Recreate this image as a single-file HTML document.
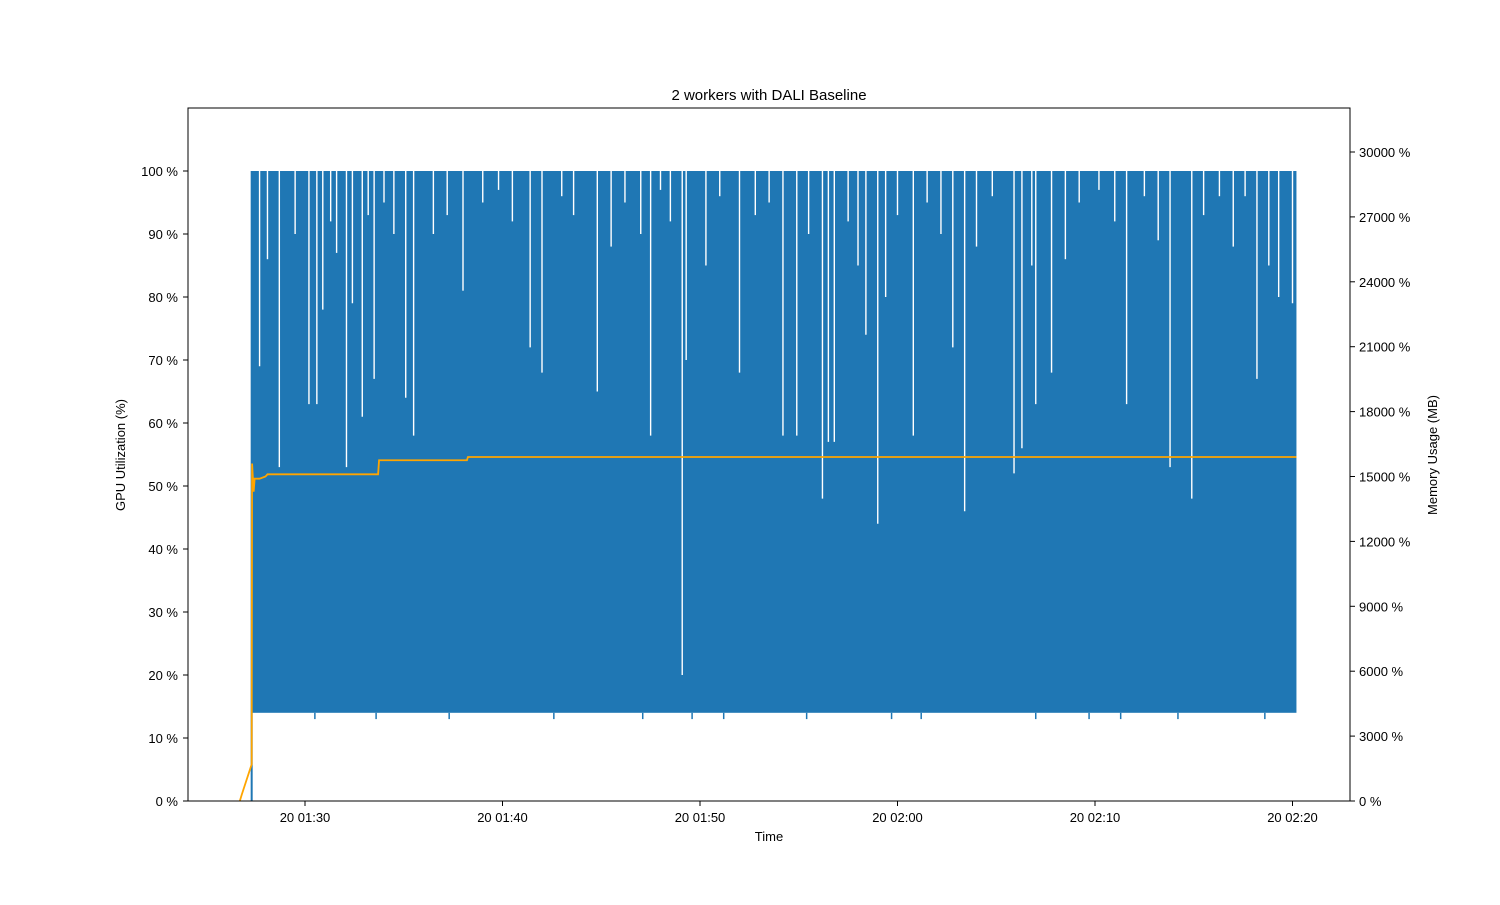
<!DOCTYPE html>
<html><head><meta charset="utf-8"><style>
body{margin:0;background:#fff;}
svg text{font-family:"Liberation Sans","DejaVu Sans",sans-serif;font-size:13px;fill:#000;}
</style></head><body>
<svg width="1500" height="900" xmlns="http://www.w3.org/2000/svg">
<rect width="1500" height="900" fill="#fff"/>
<g id="plot"></g>
<rect x="188" y="108" width="1162" height="693" fill="none" stroke="#000" stroke-width="1"/>
<text x="769" y="100" text-anchor="middle" style="font-size:15px">2 workers with DALI Baseline</text>
<text x="769" y="841" text-anchor="middle">Time</text>
<text transform="translate(125,455) rotate(-90)" text-anchor="middle">GPU Utilization (%)</text>
<text transform="translate(1437,455) rotate(-90)" text-anchor="middle">Memory Usage (MB)</text>
<g id="axes"></g>
</svg>
<script>
const xTickLabels=["20 01:30","20 01:40","20 01:50","20 02:00","20 02:10","20 02:20"];
const xTickMinutes=[0,10,20,30,40,50];
const yTicks=[0,10,20,30,40,50,60,70,80,90,100];
const y2Ticks=[0,3000,6000,9000,12000,15000,18000,21000,24000,27000,30000];
const gpuStart=-2.7, gpuEnd=50.2, gpuTop=100, gpuFloor=14;
const gpuDips=[[-2.3,69],[-1.3,53],[0.2,63],[0.6,63],[0.9,78],[2.1,53],[2.4,79],[2.9,61],[3.5,67],[5.1,64],[5.5,58],[11.4,72],[12.0,68],[14.8,65],[17.5,58],[19.1,20],[19.3,70],[22.0,68],[24.2,58],[24.9,58],[26.2,48],[26.5,57],[26.8,57],[28.4,74],[29.0,44],[29.4,80],[30.8,58],[32.8,72],[33.4,46],[35.9,52],[36.3,56],[37.0,63],[37.8,68],[41.6,63],[43.8,53],[44.9,48],[48.2,67],[49.3,80],[50.0,79],
[-1.9,86],[-0.5,90],[1.3,92],[1.6,87],[3.2,93],[4.0,95],[4.5,90],[6.5,90],[7.2,93],[8.0,81],[9.0,95],[9.8,97],[10.5,92],[13.0,96],[13.6,93],[15.5,88],[16.2,95],[17.0,90],[18.0,97],[18.5,92],[20.3,85],[21.0,96],[22.8,93],[23.5,95],[25.5,90],[27.5,92],[28.0,85],[30.0,93],[31.5,95],[32.2,90],[34.0,88],[34.8,96],[36.8,85],[38.5,86],[39.2,95],[40.2,97],[41.0,92],[42.5,96],[43.2,89],[45.5,93],[46.3,96],[47.0,88],[47.6,96],[48.8,85]];
const gpuLows=[[0.5,13],[3.6,13],[7.3,13],[12.6,13],[17.1,13],[19.6,13],[21.2,13],[25.4,13],[29.7,13],[31.2,13],[37.0,13],[39.7,13],[41.3,13],[44.2,13],[48.6,13]];
const memT=[-3.3,-3.2,-2.7,-2.68,-2.6,-2.55,-2.3,-2.0,-1.9,3.7,3.75,8.2,8.25,50.2];
const memV=[0,300,1700,15600,14300,14900,14900,15000,15100,15100,15750,15750,15900,15900];

const X=m=>305+m*19.75;
const Y=v=>801-v*6.3;
const Y2=v=>801-v/30000*649;
const NS="http://www.w3.org/2000/svg";
const plot=document.getElementById('plot'), axes=document.getElementById('axes');
function mk(tag,at,parent){const e=document.createElementNS(NS,tag);for(const k in at)e.setAttribute(k,at[k]);parent.appendChild(e);return e;}

const band=mk('rect',{x:X(gpuStart),y:Y(gpuTop),width:X(gpuEnd)-X(gpuStart),height:Y(gpuFloor)-Y(gpuTop),fill:'#1f77b4'},plot);


const rise=mk('line',{x1:X(gpuStart),y1:Y(0),x2:X(gpuStart),y2:Y(gpuTop),stroke:'#1f77b4','stroke-width':2},plot);


gpuLows.forEach(d=>{
  const l=mk('line',{x1:X(d[0]),y1:Y(gpuFloor),x2:X(d[0]),y2:Y(d[1]),stroke:'#1f77b4','stroke-width':1.5},plot);
  
  
});
gpuDips.forEach(d=>{
  const l=mk('line',{x1:X(d[0]),y1:Y(gpuTop)-1,x2:X(d[0]),y2:Y(d[1]),stroke:'#fff','stroke-width':1.4},plot);
  
  
});
const pts=memT.map((t,i)=>X(t)+','+Y2(memV[i])).join(' ');
const mem=mk('polyline',{points:pts,fill:'none',stroke:'#ffa500','stroke-width':1.8},plot);



xTickMinutes.forEach((m,i)=>{
  const x=X(m);
  mk('line',{x1:x,y1:801,x2:x,y2:806,stroke:'#000'},axes);
  const t=mk('text',{x:x,y:822,'text-anchor':'middle'},axes);t.textContent=xTickLabels[i];
  
  
});
yTicks.forEach(v=>{
  const y=Y(v);
  mk('line',{x1:183,y1:y,x2:188,y2:y,stroke:'#000'},axes);
  const t=mk('text',{x:178,y:y+5,'text-anchor':'end'},axes);t.textContent=v+' %';
  
  
});
y2Ticks.forEach(v=>{
  const y=Y2(v);
  mk('line',{x1:1350,y1:y,x2:1355,y2:y,stroke:'#000'},axes);
  const t=mk('text',{x:1359,y:y+5,'text-anchor':'start'},axes);t.textContent=v+' %';
  
  
});
</script>
</body></html>
